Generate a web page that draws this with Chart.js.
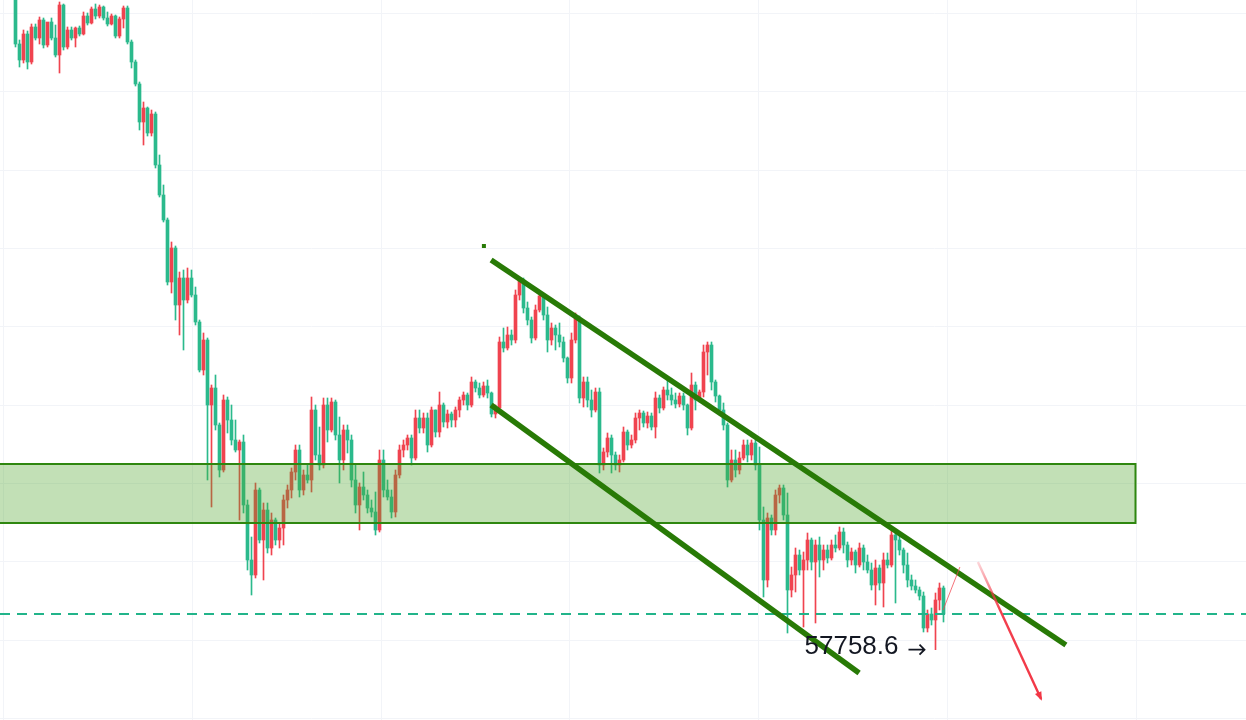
<!DOCTYPE html>
<html>
<head>
<meta charset="utf-8">
<script src="https://cdn.jsdelivr.net/npm/chart.js@4.4.1/dist/chart.umd.min.js"></script>
<style>
  html, body { margin: 0; padding: 0; background: #ffffff; }
  canvas { display: block; }
</style>
</head>
<body>
<canvas id="chart" width="1246" height="720"></canvas>
<script>
// candle data, one entry per bar
const opens = [74100,72900,72500,73150,72450,73325,73050,73500,72875,73450,
  73050,72625,73875,72825,73250,73050,73300,73150,73600,73425,
  73775,73600,73825,73550,73400,73600,73100,73525,73800,72950,
  72450,71900,70950,71300,70675,71150,69875,69125,68500,66950,
  67800,66375,67050,66500,67050,66625,65950,64750,65500,63875,
  64300,63375,62250,64000,63500,63000,62750,62950,61375,60000,
  59625,61750,60500,61250,60300,61000,60500,60800,61500,61750,
  62200,62750,61750,62125,62000,63750,62625,62375,63875,63250,
  63950,63125,62500,63250,63000,62000,61375,61825,61625,61300,
  61200,60750,62500,61750,61575,61200,62125,62750,62875,63050,
  62550,63550,63300,63550,62875,63750,63200,63875,63450,63650,
  63500,63750,64000,64125,63875,64450,64300,64125,64350,64175,
  63650,63800,65450,65300,65625,65500,66625,67000,66300,66000,
  65550,66250,66600,66125,65500,65800,65625,65450,65050,64550,
  65500,66050,64050,64450,64000,63750,64200,62375,62700,63050,
  62625,62375,62500,63200,62875,63000,63550,63675,63425,63600,
  63325,64050,63800,64250,64125,64000,63900,64100,63875,63300,
  64375,64000,64200,65200,65375,64450,64100,63750,63375,62000,
  62500,62250,62550,62875,62625,62925,62375,61000,59500,61050,
  60750,61625,61800,61125,59250,59625,60125,59750,60000,60500,
  59950,60375,60000,60250,60050,60375,60300,60700,60375,60000,
  60200,59875,60300,59950,59750,59375,59800,59425,60000,59875,
  60625,60500,60250,59875,59500,59350,59250,59100,58300,58650,
  58500,59000,59300];
const highs = [74250,73000,73250,73225,73400,73400,73575,73550,73350,73550,
  73375,73950,73900,73325,73325,73325,73350,73700,73675,73825,
  73900,73875,73850,73700,73650,73625,73575,73850,73850,73000,
  72500,71950,71450,71325,71250,71200,70125,69375,68550,67950,
  67850,67200,67250,67300,67250,66825,66000,65675,65550,64375,
  64625,63425,64125,64075,63875,63500,63000,63125,61500,60575,
  61925,61800,61425,61425,61175,61050,60925,61625,61875,62300,
  62875,62875,62250,62375,64075,63875,63325,64050,64050,64050,
  64000,63575,63375,63375,63125,62375,61925,62200,61750,61500,
  61700,62750,62750,62000,61750,62250,62875,63000,63125,63125,
  63750,63750,63675,63675,63825,63750,64200,63925,63750,63700,
  63825,64075,64200,64175,64575,64500,64425,64450,64500,64200,
  63875,65575,65800,65825,65750,66750,67050,67050,66450,66075,
  66375,66700,66650,66325,65925,65875,65925,65575,65075,65675,
  66175,66100,64575,64575,64250,64300,64300,62800,63175,63125,
  62700,62625,63325,63250,63125,63675,63750,63725,63700,63675,
  64200,64125,64325,64500,64300,64175,64175,64175,63900,64675,
  64450,64250,65375,65450,65450,64500,64125,63925,63425,62750,
  62750,62700,63000,63000,63000,63000,62825,61325,61175,61125,
  61750,61875,61875,61675,59825,60300,60250,60200,60675,60550,
  60500,60575,60375,60375,60500,60625,60825,60800,60450,60300,
  60250,60425,60375,60125,59925,60000,59875,60175,60175,60750,
  60750,60600,60300,60175,59625,59500,59325,59200,58750,58800,
  59175,59425,59350];
const lows = [72825,72325,72425,72275,72400,73000,72900,72800,72825,73000,
  72575,72175,72750,72775,73000,72825,73100,73125,73375,73400,
  73525,73550,73500,73350,73375,73050,73050,73300,72900,72300,
  71850,70750,70375,70600,70600,69800,69075,68450,66875,66675,
  66000,65625,65250,66425,66575,65875,64700,64625,62000,61325,
  63250,62075,62200,63175,62875,62700,61000,61175,59750,59125,
  59550,60425,59500,60175,60125,60375,60300,60375,61300,61550,
  62000,61575,61625,61925,61700,62500,62250,62300,62950,63200,
  63000,61925,62250,62675,61825,61175,60750,61500,61175,61075,
  60625,60700,61575,61500,61050,61075,62050,62575,62750,62375,
  62500,63175,63175,62700,62825,63075,63075,63325,63300,63325,
  63325,63575,63875,63750,63825,64200,64050,64075,64050,63575,
  63550,63750,65200,65250,65375,65425,66500,66175,65875,65425,
  65500,66200,66000,65200,65375,65250,65325,64950,64425,64425,
  65425,63925,63825,63825,63575,63700,62175,62250,62575,62175,
  62250,62200,62450,62750,62800,62925,63250,63325,63300,63250,
  63050,63675,63750,64000,63875,63800,63825,63750,63125,63250,
  63750,63950,64075,64625,64250,63950,63625,63250,61825,61950,
  62075,62150,62500,62450,62500,62250,60750,59075,59325,60625,
  60625,61425,61000,58175,59075,59200,59625,58325,59750,59750,
  58425,59575,59750,59925,60000,60200,60250,60175,59825,59875,
  59675,59825,59750,59675,59250,58875,59250,58825,59800,59825,
  58925,60125,59675,59325,59250,59175,59000,58200,58200,58375,
  57758.6,58750,58450];
const closes = [72900,72500,73150,72450,73325,73050,73500,72875,73450,73050,
  72625,73875,72825,73250,73050,73300,73150,73600,73425,73775,
  73600,73825,73550,73400,73600,73100,73525,73800,72950,72450,
  71900,70950,71300,70675,71150,69875,69125,68500,66950,67800,
  66375,67050,66500,67050,66625,65950,64750,65500,63875,64300,
  63375,62250,64000,63500,63000,62750,62950,61375,60000,59625,
  61750,60500,61250,60300,61000,60500,60800,61500,61750,62200,
  62750,61750,62125,62000,63750,62625,62375,63875,63250,63950,
  63125,62500,63250,63000,62000,61375,61825,61625,61300,61200,
  60750,62500,61750,61575,61200,62125,62750,62875,63050,62550,
  63550,63300,63550,62875,63750,63200,63875,63450,63650,63500,
  63750,64000,64125,63875,64450,64300,64125,64350,64175,63650,
  63800,65450,65300,65625,65500,66625,67000,66300,66000,65550,
  66250,66600,66125,65500,65800,65625,65450,65050,64550,65500,
  66050,64050,64450,64000,63750,64200,62375,62700,63050,62625,
  62375,62500,63200,62875,63000,63550,63675,63425,63600,63325,
  64050,63800,64250,64125,64000,63900,64100,63875,63300,64375,
  64000,64200,65200,65375,64450,64100,63750,63375,62000,62500,
  62250,62550,62875,62625,62925,62375,61000,59500,61050,60750,
  61625,61800,61125,59250,59625,60125,59750,60000,60500,59950,
  60375,60000,60250,60050,60375,60300,60700,60375,60000,60200,
  59875,60300,59950,59750,59375,59800,59425,60000,59875,60625,
  60500,60250,59875,59500,59350,59250,59100,58300,58650,58500,
  59000,59300,58650];

// grid positions (time ticks in bar index units, price levels)
const timeTicks = [-3, 44.2, 91.4, 138.6, 185.8, 233, 280.2];
const priceTicks = [73660, 71705, 69750, 67790, 65830, 63875, 61920, 59960, 58000, 56045];

// drawings: [barIndex, price]
const zone = { from: -5, to: 280, top: 62400, bottom: 60925 };
const channelTop = [[118.9, 67500], [262.6, 57875]];
const channelBottom = [[118.9, 63875], [210.9, 57175]];
const markerDot = [117.1, 67850];
const projection = [[231.9, 58750], [236.1, 59825]];
const targetArrow = [[240.6, 59950], [256.4, 56525]];

const UP = '#f0444f';
const DOWN = '#2bba8c';

const idx = opens.map((_, i) => i);
const candleColor = c => closes[c.dataIndex] >= opens[c.dataIndex] ? UP : DOWN;

const lastClose = closes[closes.length - 1];
const lowIndex = lows.indexOf(Math.min(...lows));

const drawings = {
  id: 'drawings',
  beforeDraw(chart) {
    const ctx = chart.ctx;
    ctx.save();
    ctx.fillStyle = '#ffffff';
    ctx.fillRect(0, 0, chart.width, chart.height);
    ctx.restore();
  },
  afterDatasetsDraw(chart) {
    const { ctx, scales: { x, y } } = chart;
    const px = p => [x.getPixelForValue(p[0]), y.getPixelForValue(p[1])];
    ctx.save();

    // support zone
    const zx0 = x.getPixelForValue(zone.from), zx1 = x.getPixelForValue(zone.to);
    const zy0 = Math.round(y.getPixelForValue(zone.top)), zy1 = Math.round(y.getPixelForValue(zone.bottom));
    ctx.fillStyle = 'rgba(80,165,47,0.35)';
    ctx.fillRect(zx0, zy0, zx1 - zx0, zy1 - zy0);
    ctx.strokeStyle = '#2e870f';
    ctx.lineWidth = 2;
    ctx.strokeRect(zx0, zy0, zx1 - zx0, zy1 - zy0);

    // last price line
    const ly = Math.round(y.getPixelForValue(lastClose));
    ctx.setLineDash([10, 7]);
    ctx.strokeStyle = '#22b48a';
    ctx.lineWidth = 2;
    ctx.beginPath();
    ctx.moveTo(0, ly);
    ctx.lineTo(chart.width, ly);
    ctx.stroke();
    ctx.setLineDash([]);

    // channel
    ctx.strokeStyle = '#287a06';
    ctx.lineWidth = 5.5;
    [channelTop, channelBottom].forEach(line => {
      const a = px(line[0]), b = px(line[1]);
      ctx.beginPath();
      ctx.moveTo(a[0], a[1]);
      ctx.lineTo(b[0], b[1]);
      ctx.stroke();
    });
    const d = px(markerDot);
    ctx.fillStyle = '#287a06';
    ctx.fillRect(d[0] - 2, d[1] - 2, 4, 4);

    // projection
    const p0 = px(projection[0]), p1 = px(projection[1]);
    ctx.strokeStyle = 'rgba(242,68,79,0.75)';
    ctx.lineWidth = 1;
    ctx.beginPath();
    ctx.moveTo(p0[0], p0[1]);
    ctx.lineTo(p1[0], p1[1]);
    ctx.stroke();

    // target arrow
    const t0 = px(targetArrow[0]), t1 = px(targetArrow[1]);
    const grad = ctx.createLinearGradient(t0[0], t0[1], t1[0], t1[1]);
    grad.addColorStop(0, 'rgba(242,54,69,0.2)');
    grad.addColorStop(0.35, 'rgba(242,54,69,0.95)');
    grad.addColorStop(1, 'rgba(242,54,69,1)');
    ctx.strokeStyle = grad;
    ctx.lineWidth = 2.4;
    ctx.beginPath();
    ctx.moveTo(t0[0], t0[1]);
    ctx.lineTo(t1[0], t1[1]);
    ctx.stroke();
    const ang = Math.atan2(t1[1] - t0[1], t1[0] - t0[0]);
    ctx.fillStyle = '#f23645';
    ctx.beginPath();
    ctx.moveTo(t1[0] + 2 * Math.cos(ang), t1[1] + 2 * Math.sin(ang));
    ctx.lineTo(t1[0] - 7 * Math.cos(ang) + 3.5 * Math.sin(ang), t1[1] - 7 * Math.sin(ang) - 3.5 * Math.cos(ang));
    ctx.lineTo(t1[0] - 7 * Math.cos(ang) - 3.5 * Math.sin(ang), t1[1] - 7 * Math.sin(ang) + 3.5 * Math.cos(ang));
    ctx.closePath();
    ctx.fill();

    // low label
    const cx = x.getPixelForValue(lowIndex);
    const cy = y.getPixelForValue(lows[lowIndex]) - 2;
    ctx.fillStyle = '#131722';
    ctx.font = "26px 'Liberation Sans', Arial, sans-serif";
    ctx.textAlign = 'right';
    ctx.textBaseline = 'middle';
    ctx.fillText(lows[lowIndex].toFixed(1), cx - 37, cy - 1);
    ctx.strokeStyle = '#131722';
    ctx.lineWidth = 1.8;
    ctx.beginPath();
    ctx.moveTo(cx - 27, cy + 2);
    ctx.lineTo(cx - 11, cy + 2);
    ctx.moveTo(cx - 16, cy - 3);
    ctx.lineTo(cx - 11, cy + 2);
    ctx.lineTo(cx - 16, cy + 7);
    ctx.stroke();

    ctx.restore();
  }
};

new Chart(document.getElementById('chart'), {
  type: 'bar',
  data: {
    datasets: [
      {
        label: 'wick',
        data: idx.map(i => ({ x: i, y: [lows[i], highs[i]] })),
        backgroundColor: candleColor,
        barThickness: 1,
        grouped: false,
        borderWidth: 0
      },
      {
        label: 'body',
        data: idx.map(i => ({ x: i, y: [opens[i], closes[i]] })),
        backgroundColor: candleColor,
        barThickness: 3,
        minBarLength: 1,
        grouped: false,
        borderWidth: 0
      }
    ]
  },
  options: {
    responsive: false,
    devicePixelRatio: 1,
    animation: false,
    layout: { padding: 0 },
    plugins: {
      legend: { display: false },
      tooltip: { enabled: false }
    },
    scales: {
      x: {
        type: 'linear',
        min: -3.875,
        max: 307.625,
        offset: false,
        ticks: { display: false },
        grid: { color: '#f2f4f8', drawTicks: false, offset: false },
        border: { display: false },
        afterBuildTicks: axis => { axis.ticks = timeTicks.map(v => ({ value: v })); }
      },
      y: {
        min: 56000,
        max: 74000,
        ticks: { display: false },
        grid: { color: '#f2f4f8', drawTicks: false },
        border: { display: false },
        afterBuildTicks: axis => { axis.ticks = priceTicks.map(v => ({ value: v })); }
      }
    }
  },
  plugins: [drawings]
});
</script>
</body>
</html>
